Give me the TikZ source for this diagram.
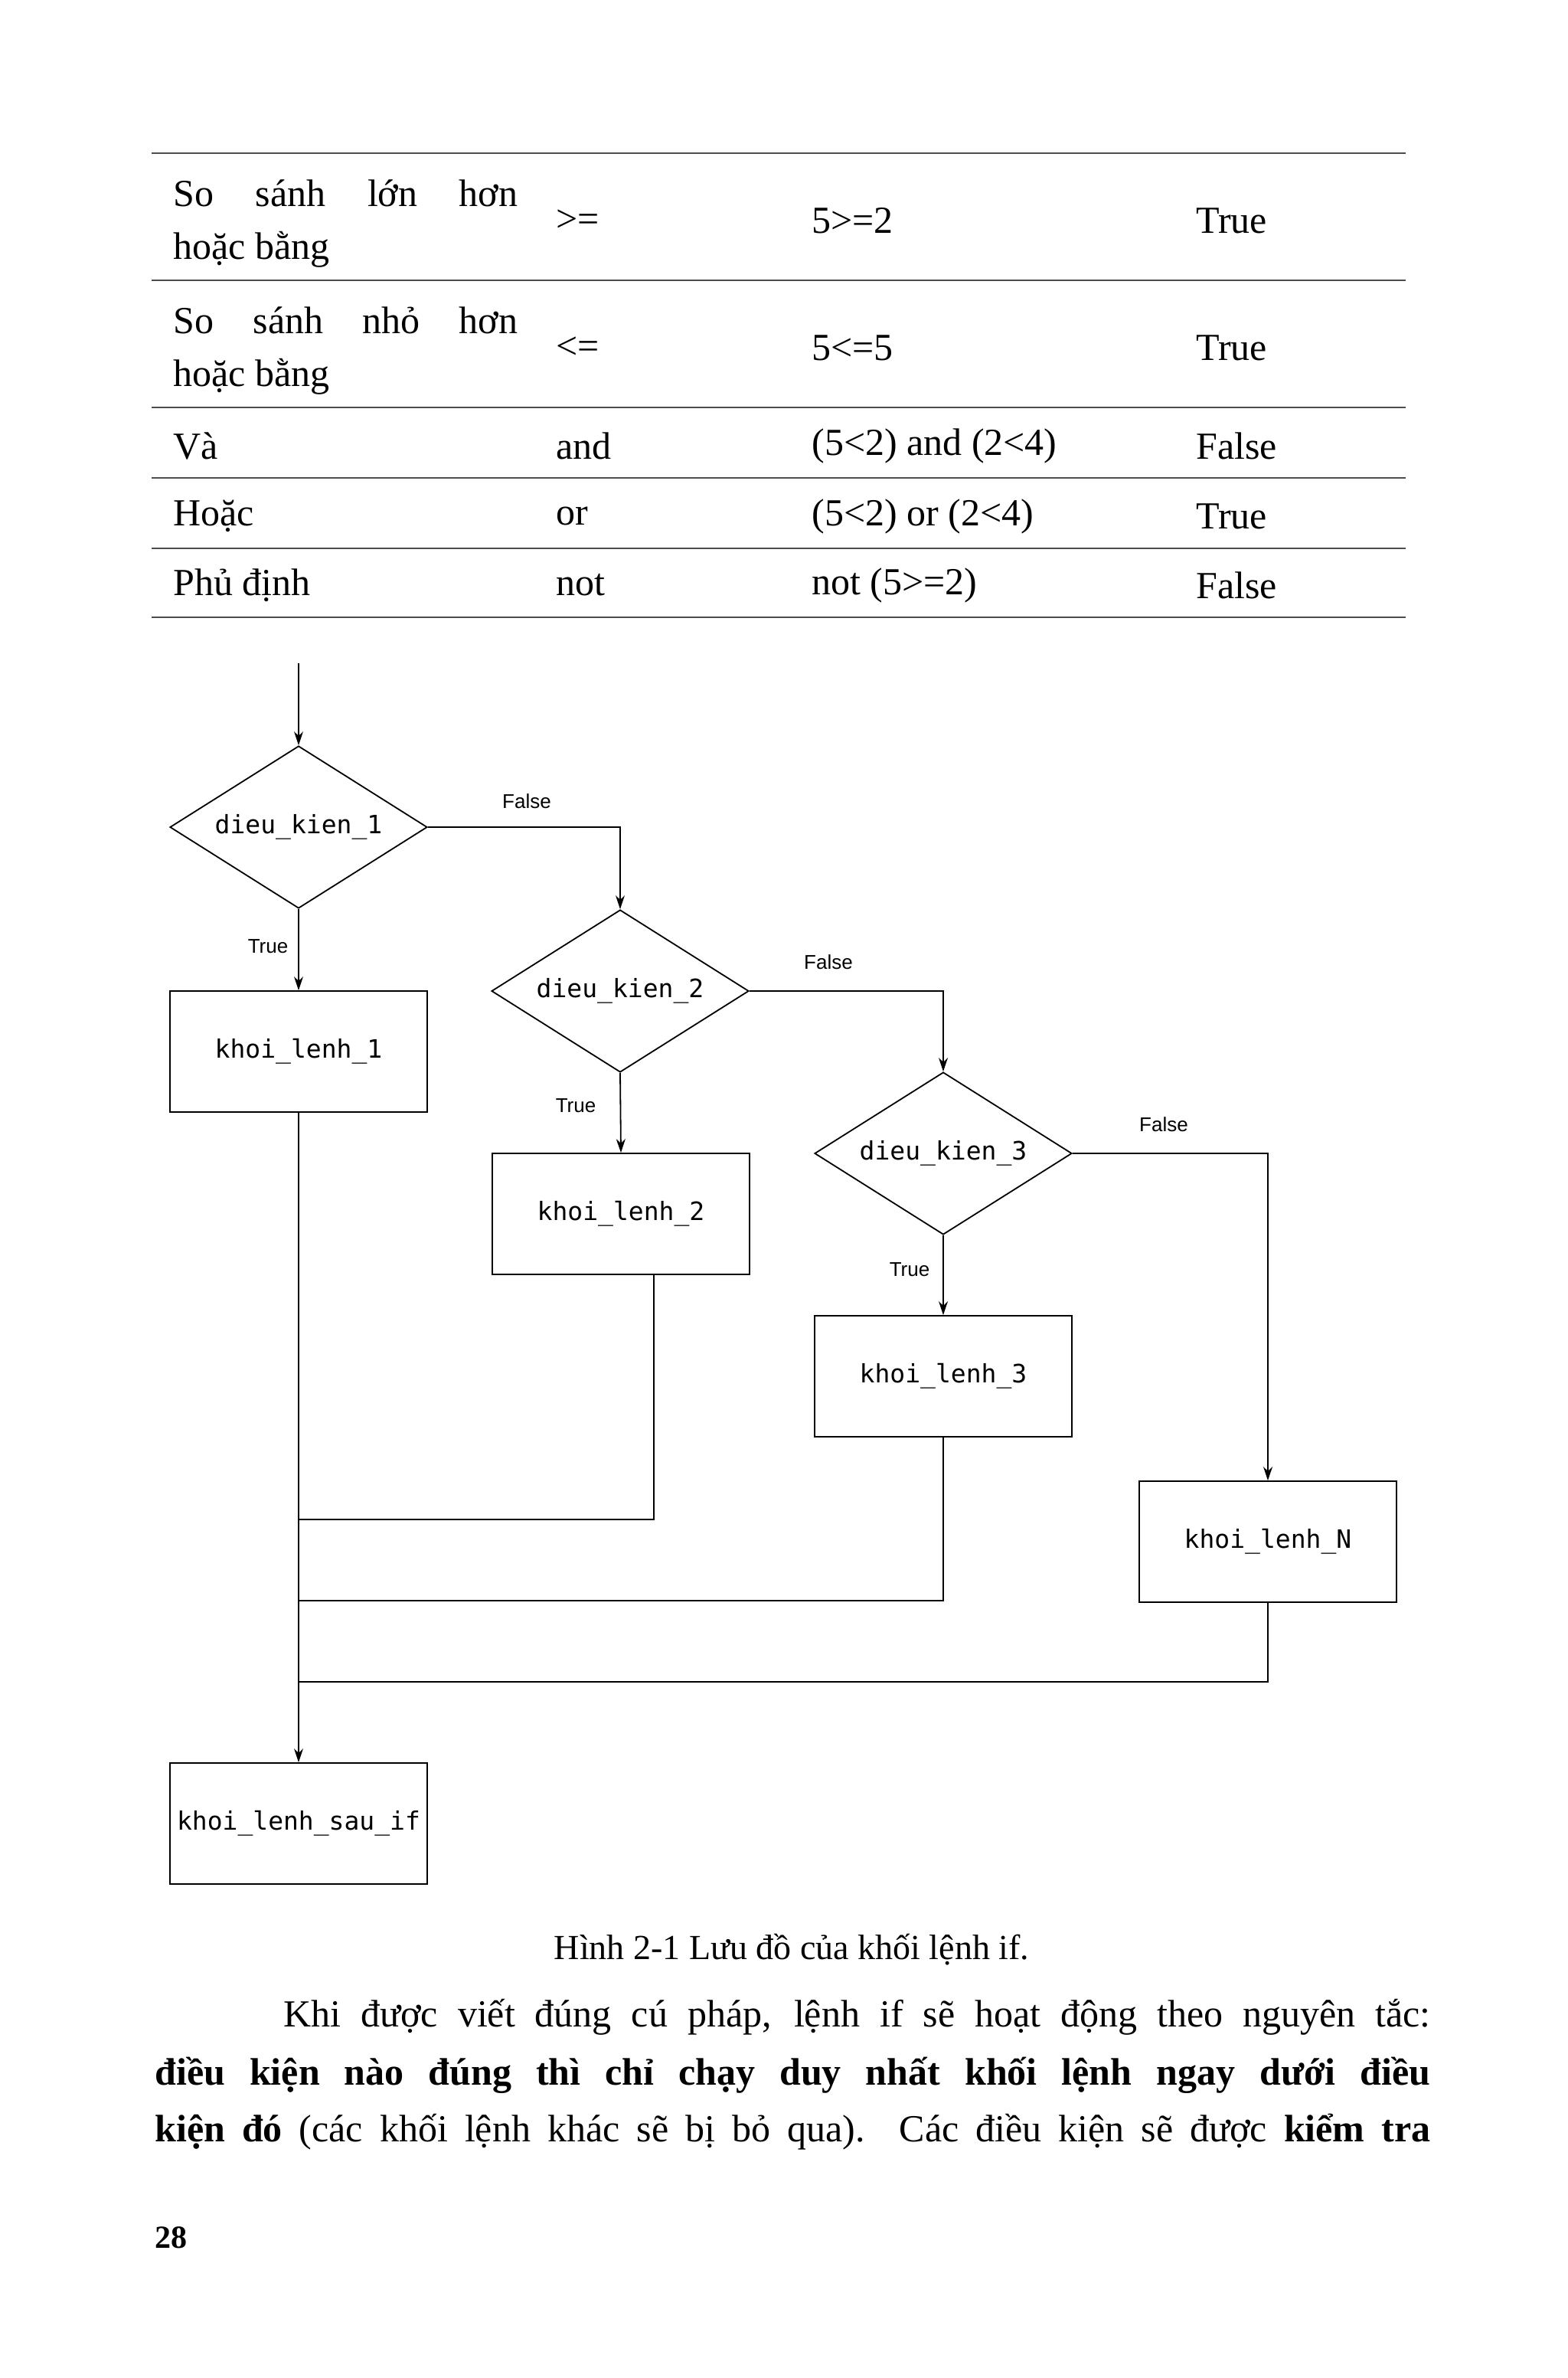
\documentclass[tikz,border=0pt]{standalone}
\usepackage{fontspec}
\setmainfont{Liberation Serif}
\newfontfamily\monof{DejaVu Sans Mono}
\newfontfamily\sansf{Liberation Sans}
\usetikzlibrary{shapes.geometric,arrows.meta}
\begin{document}
\begin{tikzpicture}[x=1pt,y=-1pt,
  txt/.style={inner sep=0pt,anchor=west,font=\fontsize{25}{30}\selectfont},
  rule/.style={line width=0.6pt,draw=black!70},
  dec/.style={draw,diamond,aspect=1.6,minimum width=168pt,minimum height=106pt,inner sep=0pt,line width=0.9pt,font=\monof\fontsize{16.5}{18}\selectfont},
  box/.style={draw,rectangle,minimum width=168pt,minimum height=79pt,inner sep=0pt,line width=0.9pt,font=\monof\fontsize{16.5}{18}\selectfont},
  lab/.style={inner sep=0pt,font=\sansf\fontsize{13}{14}\selectfont},
  ln/.style={line width=0.9pt},
  arr/.style={line width=0.9pt,-{Stealth[length=9pt,width=6pt]}}]
\useasboundingbox (0,0) rectangle (1024,1552.5);
% table
\foreach \y in {100,183,266,312,358,403} \draw[rule] (99,\y) -- (918,\y);
\node[txt] (t1a) at (113,126) {\makebox[225pt][s]{So sánh lớn hơn}};
\node[txt] (t1b) at (113,163) {hoặc bằng};
\node[txt] (t1c) at (363,144) {>=};
\node[txt] (t1d) at (530,144) {5>=2};
\node[txt] (t1e) at (781,144) {True};
\node[txt] (t2a) at (113,209) {\makebox[225pt][s]{So sánh nhỏ hơn}};
\node[txt] (t2b) at (113,246) {hoặc bằng};
\node[txt] (t2c) at (363,227) {<=};
\node[txt] (t2d) at (530,227) {5<=5};
\node[txt] (t2e) at (781,227) {True};
\node[txt] (t3a) at (113,291) {Và};
\node[txt] (t3c) at (363,291) {and};
\node[txt] (t3d) at (530,291) {(5<2) and (2<4)};
\node[txt] (t3e) at (781,291) {False};
\node[txt] (t4a) at (113,337) {Hoặc};
\node[txt] (t4c) at (363,337) {or};
\node[txt] (t4d) at (530,337) {(5<2) or (2<4)};
\node[txt] (t4e) at (781,337) {True};
\node[txt] (t5a) at (113,382) {Phủ định};
\node[txt] (t5c) at (363,382) {not};
\node[txt] (t5d) at (530,382) {not (5>=2)};
\node[txt] (t5e) at (781,382) {False};
% flowchart
\coordinate (start) at (195,433);
\node[dec] (d1) at (195,540) {dieu\_kien\_1};
\node[dec] (d2) at (405,647) {dieu\_kien\_2};
\node[dec] (d3) at (616,753) {dieu\_kien\_3};
\node[box] (b1) at (195,686.5) {khoi\_lenh\_1};
\node[box] (b2) at (405.5,792.5) {khoi\_lenh\_2};
\node[box] (b3) at (616,898.5) {khoi\_lenh\_3};
\node[box] (bn) at (828,1006.5) {khoi\_lenh\_N};
\node[box] (fin) at (195,1190.5) {khoi\_lenh\_sau\_if};
\coordinate (j1) at (195,992);
\coordinate (j2) at (195,1045);
\coordinate (j3) at (195,1098);
\draw[arr] (start) -- (d1.north);
\draw[arr] (d1.east) -| (d2.north);
\draw[arr] (d2.east) -| (d3.north);
\draw[arr] (d3.east) -| (bn.north);
\draw[arr] (d1.south) -- (b1.north);
\draw[arr] (d2.south) -- (b2.north);
\draw[arr] (d3.south) -- (b3.north);
\draw[arr] (b1.south) -- (fin.north);
\draw[ln] ([xshift=21.5pt]b2.south) |- (j1);
\draw[ln] (b3.south) |- (j2);
\draw[ln] (bn.south) |- (j3);
\node[lab] (f1) at (344,523) {False};
\node[lab] (f2) at (541,628) {False};
\node[lab] (f3) at (760,734) {False};
\node[lab] (r1) at (175,618) {True};
\node[lab] (r2) at (376,722) {True};
\node[lab] (r3) at (594,829) {True};
% caption and text
\node[inner sep=0pt,font=\fontsize{23}{28}\selectfont] (cap) at (517,1273) {Hình 2-1 Lưu đồ của khối lệnh if.};
\node[txt] (p1) at (185,1317) {\makebox[749pt][s]{Khi được viết đúng cú pháp, lệnh if sẽ hoạt động theo nguyên tắc:}};
\node[txt] (p2) at (101,1355) {\makebox[833pt][s]{\bfseries điều kiện nào đúng thì chỉ chạy duy nhất khối lệnh ngay dưới điều}};
\node[txt] (p3) at (101,1392) {\makebox[833pt][s]{\textbf{kiện đó} (các khối lệnh khác sẽ bị bỏ qua). Các điều kiện sẽ được \textbf{kiểm tra}}};
\node[txt,font=\bfseries\fontsize{21}{24}\selectfont] (pg) at (101,1461) {28};
\end{tikzpicture}
\end{document}
